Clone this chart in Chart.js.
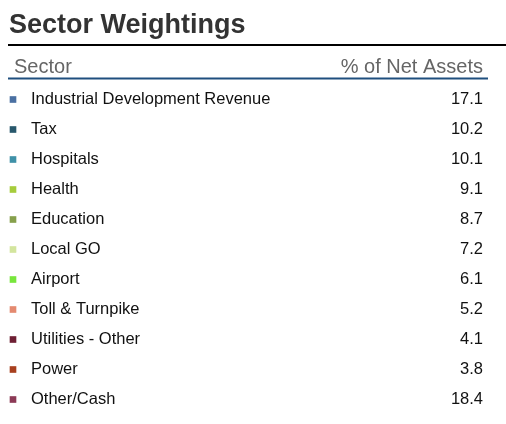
<!DOCTYPE html>
<html>
<head>
<meta charset="utf-8">
<title>Sector Weightings</title>
<script src="https://cdn.jsdelivr.net/npm/chart.js@4.4.0/dist/chart.umd.min.js"></script>
<style>
  html, body { margin: 0; padding: 0; background: #fff; }
  canvas { display: block; }
</style>
</head>
<body>
<canvas id="sectorChart" width="506" height="424"></canvas>
<script>
// Données
const chartTitle = 'Sector Weightings';
const columnHeads = ['Sector', '% of Net Assets'];
const sectors = [
  'Industrial Development Revenue', 'Tax', 'Hospitals', 'Health', 'Education',
  'Local GO', 'Airport', 'Toll & Turnpike', 'Utilities - Other', 'Power', 'Other/Cash'
];
const weights = [17.1, 10.2, 10.1, 9.1, 8.7, 7.2, 6.1, 5.2, 4.1, 3.8, 18.4];
const swatches = [
  '#4a70a2', '#28586c', '#3f91a8', '#a6cc3c', '#86a04c',
  '#d3e59e', '#78e63c', '#e48a70', '#6e1f34', '#a8401e', '#8c3a56'
];

const FONT = '"Liberation Sans", Arial, Helvetica, sans-serif';

// Texte, filets et en-têtes du tableau
const tablePlugin = {
  id: 'tableText',
  afterDatasetsDraw(chart) {
    const { ctx, scales: { x, y } } = chart;
    const w = chart.width;
    ctx.save();

    ctx.fillStyle = '#333';
    ctx.font = 'bold 27px ' + FONT;
    ctx.textAlign = 'left';
    ctx.textBaseline = 'alphabetic';
    ctx.fillText(chartTitle, 9, 32.5);

    ctx.fillStyle = '#000';
    ctx.fillRect(8, 44, w - 8, 2);

    ctx.fillStyle = '#666';
    ctx.font = '20px ' + FONT;
    ctx.fillText(columnHeads[0], 14, 72.5);
    ctx.textAlign = 'right';
    ctx.fillText(columnHeads[1], x.right, 72.5);

    ctx.fillStyle = '#1f4f7e';
    ctx.fillRect(8, 77.5, 480, 2);

    ctx.font = '16.5px ' + FONT;
    ctx.fillStyle = '#111';
    const x0 = x.getPixelForValue(0);
    sectors.forEach((s, i) => {
      const py = y.getPixelForValue(i) + 4.5;
      ctx.textAlign = 'left';
      ctx.fillText(s, x0 + 18, py);
      ctx.textAlign = 'right';
      ctx.fillText(weights[i].toFixed(1), x.right, py);
    });
    ctx.restore();
  }
};

new Chart(document.getElementById('sectorChart'), {
  type: 'scatter',
  data: {
    labels: sectors,
    datasets: [{
      label: columnHeads[1],
      data: sectors.map((s, i) => ({ x: 0, y: s })),
      pointStyle: 'rect',
      pointRadius: 4.7,
      pointHoverRadius: 4.7,
      pointBorderWidth: 0,
      backgroundColor: swatches,
      borderColor: swatches,
      clip: false
    }]
  },
  options: {
    responsive: false,
    animation: false,
    devicePixelRatio: 1,
    layout: { padding: { top: 84.5, bottom: 9.5, left: 13, right: 23 } },
    scales: {
      x: { type: 'linear', min: 0, max: 1, display: false },
      y: { type: 'category', labels: sectors, offset: true, display: false }
    },
    plugins: {
      legend: { display: false },
      tooltip: { enabled: false },
      title: { display: false }
    }
  },
  plugins: [tablePlugin]
});
</script>
</body>
</html>
